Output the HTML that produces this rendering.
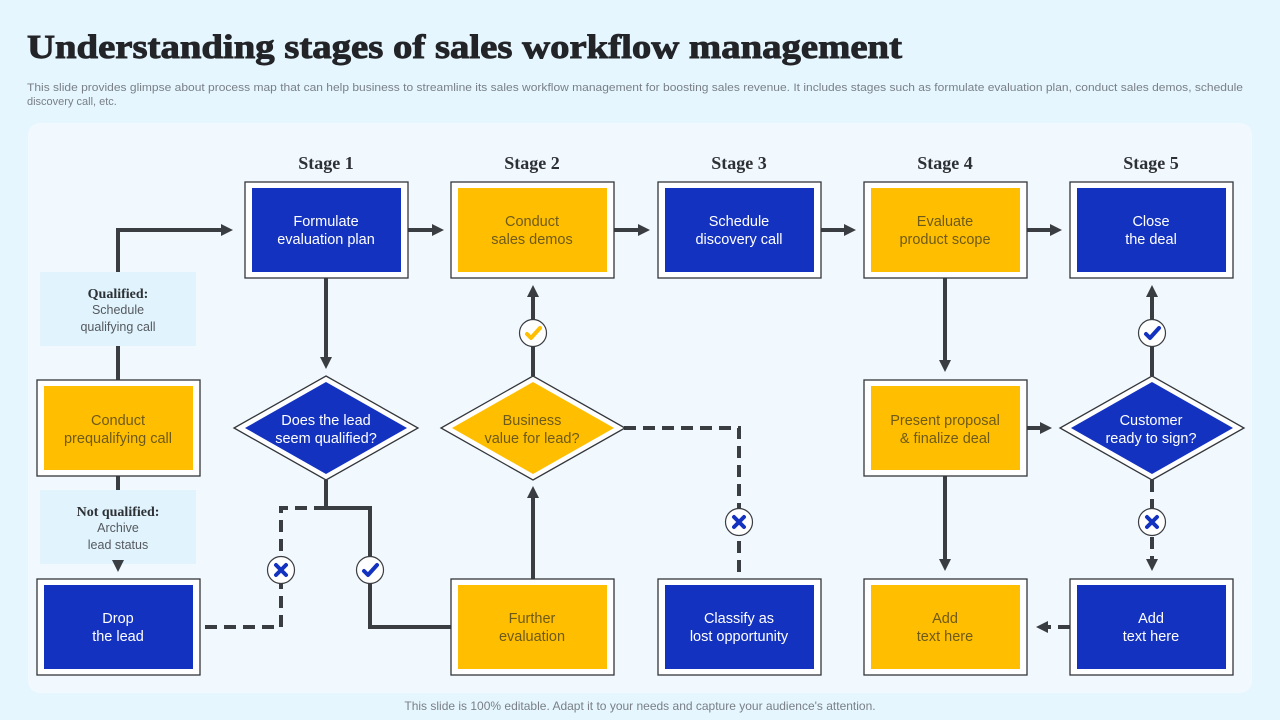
<!DOCTYPE html>
<html><head><meta charset="utf-8"><style>
html,body{margin:0;padding:0;background:#e5f6fe;}
svg{display:block;}
</style></head><body>
<svg width="1280" height="720" viewBox="0 0 1280 720" xmlns="http://www.w3.org/2000/svg" font-family="Liberation Sans, sans-serif">
<defs>
<marker id="ah" markerWidth="12" markerHeight="12" refX="8" refY="6" orient="auto" markerUnits="userSpaceOnUse">
<path d="M0,0 L12,6 L0,12 z" fill="#3a3d42"/>
</marker>
</defs>
<rect width="1280" height="720" fill="#e5f6fe"/>
<text x="27" y="58" font-family="Liberation Serif, serif" font-weight="bold" font-size="34" fill="#222428" stroke="#222428" stroke-width="0.9" textLength="875" lengthAdjust="spacingAndGlyphs">Understanding stages of sales workflow management</text>
<text x="27" y="91" font-size="11" fill="#7a7f86" textLength="1216" lengthAdjust="spacingAndGlyphs">This slide provides glimpse about process map that can help business to streamline its sales workflow management for boosting sales revenue. It includes stages such as formulate evaluation plan, conduct sales demos, schedule</text>
<text x="27" y="105" font-size="11" fill="#7a7f86">discovery call, etc.</text>
<rect x="28" y="123" width="1224" height="570" rx="12" fill="#f1f9fe"/>

<g font-family="Liberation Serif, serif" font-weight="bold" font-size="18" fill="#2d3035" text-anchor="middle">
<text x="326" y="169">Stage 1</text><text x="532" y="169">Stage 2</text><text x="739" y="169">Stage 3</text><text x="945" y="169">Stage 4</text><text x="1151" y="169">Stage 5</text>
</g>

<rect x="40" y="272" width="156" height="74" fill="#e1f4fd"/>
<rect x="40" y="490" width="156" height="74" fill="#e1f4fd"/>
<g text-anchor="middle" font-size="12.5" fill="#55595f">
<text x="118" y="298" font-family="Liberation Serif, serif" font-weight="bold" font-size="14" fill="#2d3035">Qualified:</text>
<text x="118" y="314">Schedule</text><text x="118" y="331">qualifying call</text>
<text x="118" y="516" font-family="Liberation Serif, serif" font-weight="bold" font-size="14" fill="#2d3035">Not qualified:</text>
<text x="118" y="532">Archive</text><text x="118" y="549">lead status</text>
</g>

<g stroke="#3a3d42" stroke-width="4" fill="none">
<path d="M118,272 V230 H229" marker-end="url(#ah)"/>
<path d="M118,346 V380"/>
<path d="M118,476 V490"/>
<path d="M118,564 V568" marker-end="url(#ah)"/>
<path d="M408,230 H440" marker-end="url(#ah)"/>
<path d="M614,230 H646" marker-end="url(#ah)"/>
<path d="M821,230 H852" marker-end="url(#ah)"/>
<path d="M1027,230 H1058" marker-end="url(#ah)"/>
<path d="M326,278 V365" marker-end="url(#ah)"/>
<path d="M326,480 V508 H370 V627 H451"/>
<path d="M326,508 H281 V627 H200" stroke-dasharray="12,7"/>
<path d="M533,579 V490" marker-end="url(#ah)"/>
<path d="M533,376 V289" marker-end="url(#ah)"/>
<path d="M624,428 H739 V579" stroke-dasharray="12,7"/>
<path d="M945,278 V368" marker-end="url(#ah)"/>
<path d="M1027,428 H1048" marker-end="url(#ah)"/>
<path d="M945,476 V567" marker-end="url(#ah)"/>
<path d="M1152,376 V289" marker-end="url(#ah)"/>
<path d="M1152,480 V567" stroke-dasharray="12,7" marker-end="url(#ah)"/>
<path d="M1070,627 H1040" stroke-dasharray="12,7" marker-end="url(#ah)"/>
</g>

<g stroke="#33363b" stroke-width="1.3">
<rect x="245" y="182" width="163" height="96" fill="#fff"/>
<rect x="451" y="182" width="163" height="96" fill="#fff"/>
<rect x="658" y="182" width="163" height="96" fill="#fff"/>
<rect x="864" y="182" width="163" height="96" fill="#fff"/>
<rect x="1070" y="182" width="163" height="96" fill="#fff"/>
<rect x="37" y="380" width="163" height="96" fill="#fff"/>
<rect x="864" y="380" width="163" height="96" fill="#fff"/>
<rect x="37" y="579" width="163" height="96" fill="#fff"/>
<rect x="451" y="579" width="163" height="96" fill="#fff"/>
<rect x="658" y="579" width="163" height="96" fill="#fff"/>
<rect x="864" y="579" width="163" height="96" fill="#fff"/>
<rect x="1070" y="579" width="163" height="96" fill="#fff"/>
<polygon points="326,376 418,428 326,480 234,428" fill="#fff"/>
<polygon points="533,376 625,428 533,480 441,428" fill="#fff"/>
<polygon points="1152,376 1244,428 1152,480 1060,428" fill="#fff"/>
</g>
<g>
<rect x="252" y="188" width="149" height="84" fill="#1432c0"/>
<rect x="458" y="188" width="149" height="84" fill="#ffbf00"/>
<rect x="665" y="188" width="149" height="84" fill="#1432c0"/>
<rect x="871" y="188" width="149" height="84" fill="#ffbf00"/>
<rect x="1077" y="188" width="149" height="84" fill="#1432c0"/>
<rect x="44" y="386" width="149" height="84" fill="#ffbf00"/>
<rect x="871" y="386" width="149" height="84" fill="#ffbf00"/>
<rect x="44" y="585" width="149" height="84" fill="#1432c0"/>
<rect x="458" y="585" width="149" height="84" fill="#ffbf00"/>
<rect x="665" y="585" width="149" height="84" fill="#1432c0"/>
<rect x="871" y="585" width="149" height="84" fill="#ffbf00"/>
<rect x="1077" y="585" width="149" height="84" fill="#1432c0"/>
<polygon points="326,382 407,428 326,474 245,428" fill="#1432c0"/>
<polygon points="533,382 614,428 533,474 452,428" fill="#ffbf00"/>
<polygon points="1152,382 1233,428 1152,474 1071,428" fill="#1432c0"/>
</g>

<g text-anchor="middle" font-size="14.5">
<g fill="#ffffff">
<text x="326" y="226">Formulate</text><text x="326" y="244">evaluation plan</text>
<text x="739" y="226">Schedule</text><text x="739" y="244">discovery call</text>
<text x="1151" y="226">Close</text><text x="1151" y="244">the deal</text>
<text x="118" y="623">Drop</text><text x="118" y="641">the lead</text>
<text x="739" y="623">Classify as</text><text x="739" y="641">lost opportunity</text>
<text x="1151" y="623">Add</text><text x="1151" y="641">text here</text>
<text x="326" y="425">Does the lead</text><text x="326" y="443">seem qualified?</text>
<text x="1151" y="425">Customer</text><text x="1151" y="443">ready to sign?</text>
</g>
<g fill="#6e5a1a">
<text x="532" y="226">Conduct</text><text x="532" y="244">sales demos</text>
<text x="945" y="226">Evaluate</text><text x="945" y="244">product scope</text>
<text x="118" y="425">Conduct</text><text x="118" y="443">prequalifying call</text>
<text x="945" y="425">Present proposal</text><text x="945" y="443">&amp; finalize deal</text>
<text x="532" y="623">Further</text><text x="532" y="641">evaluation</text>
<text x="945" y="623">Add</text><text x="945" y="641">text here</text>
<text x="532" y="425">Business</text><text x="532" y="443">value for lead?</text>
</g>
</g>

<g stroke="#3a3d42" stroke-width="1.2" fill="#fff">
<circle cx="281" cy="570" r="13.5"/><circle cx="370" cy="570" r="13.5"/>
<circle cx="533" cy="333" r="13.5"/><circle cx="739" cy="522" r="13.5"/>
<circle cx="1152" cy="333" r="13.5"/><circle cx="1152" cy="522" r="13.5"/>
</g>
<g stroke-width="4" stroke-linecap="round" stroke-linejoin="round" fill="none">
<path d="M276,565 L286,575 M286,565 L276,575" stroke="#1432c0"/>
<path d="M734,517 L744,527 M744,517 L734,527" stroke="#1432c0"/>
<path d="M1147,517 L1157,527 M1157,517 L1147,527" stroke="#1432c0"/>
<path d="M364,571 L368,575 L377,565" stroke="#1432c0"/>
<path d="M1146,334 L1150,338 L1159,328" stroke="#1432c0"/>
<path d="M527,334 L531,338 L540,328" stroke="#ffbf00"/>
</g>

<text x="640" y="710" text-anchor="middle" font-size="12" fill="#7a7f86">This slide is 100% editable. Adapt it to your needs and capture your audience's attention.</text>
</svg>
</body></html>
